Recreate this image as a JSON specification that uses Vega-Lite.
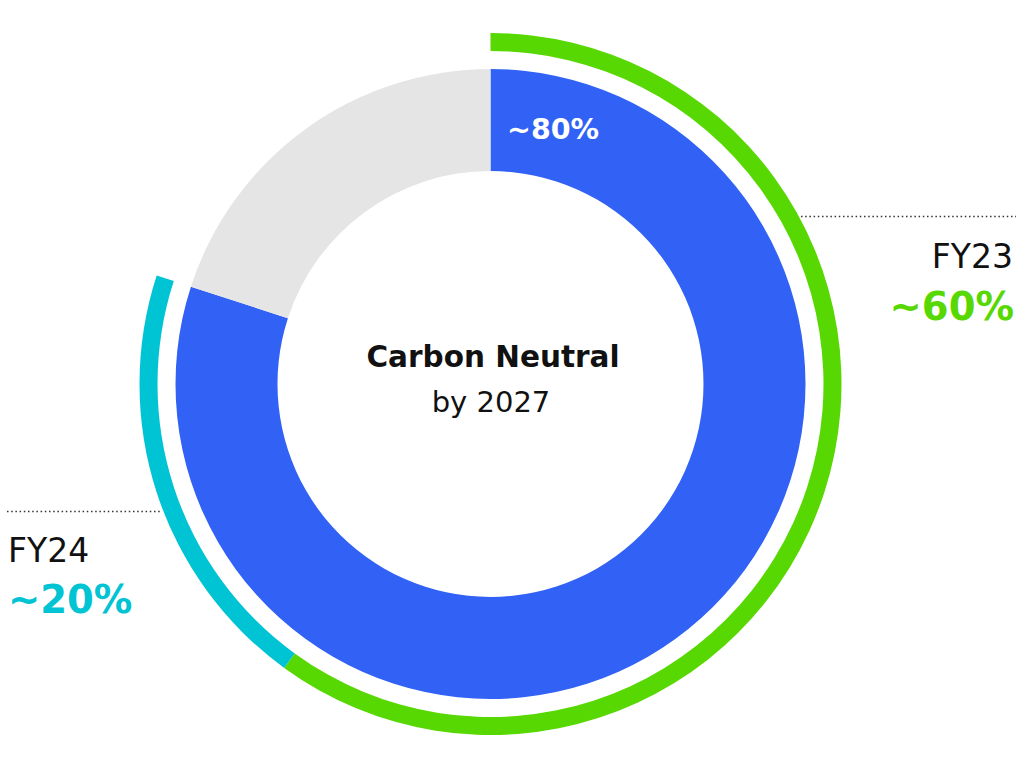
{
  "$schema": "https://vega.github.io/schema/vega-lite/v6.json",
  "width": 1024,
  "height": 768,
  "autosize": {"type": "fit", "contains": "padding"},
  "padding": 0,
  "background": "white",
  "config": {"view": {"stroke": null}, "font": "DejaVu Sans"},
  "datasets": {
    "rings": [
      {"ring": "inner", "seg": "Covered", "start": 0, "end": 80},
      {"ring": "inner", "seg": "Remaining", "start": 80, "end": 100},
      {"ring": "outer", "seg": "FY23", "start": 0, "end": 60},
      {"ring": "outer", "seg": "FY24", "start": 60, "end": 80}
    ],
    "labels": [
      {"id": "inner", "text": "~80%", "x": 507, "y": 139},
      {"id": "title", "text": "Carbon Neutral", "x": 493, "y": 367},
      {"id": "sub", "text": "by 2027", "x": 491, "y": 412},
      {"id": "fy23", "text": "FY23", "x": 1013, "y": 268},
      {"id": "fy23v", "text": "~60%", "x": 1014, "y": 320},
      {"id": "fy24", "text": "FY24", "x": 8, "y": 562},
      {"id": "fy24v", "text": "~20%", "x": 8, "y": 613}
    ],
    "leaders": [
      {"id": "fy23", "x": 801, "x2": 1016, "y": 216.5},
      {"id": "fy24", "x": 7, "x2": 161, "y": 511.5}
    ]
  },
  "layer": [
    {
      "data": {"name": "rings"},
      "transform": [{"filter": "datum.ring === 'inner'"}],
      "mark": {"type": "arc", "radius": 315, "radius2": 213},
      "encoding": {
        "x": {"datum": 490.5, "type": "quantitative", "scale": {"domain": [0, 1024], "nice": false, "zero": false}, "axis": null},
        "y": {"datum": 384, "type": "quantitative", "scale": {"domain": [0, 768], "nice": false, "zero": false, "reverse": true}, "axis": null},
        "theta": {"field": "start", "type": "quantitative", "scale": {"domain": [0, 100]}},
        "theta2": {"field": "end"},
        "color": {"field": "seg", "type": "nominal", "scale": {"domain": ["Covered", "Remaining", "FY23", "FY24"], "range": ["#3162F5", "#E5E5E5", "#58D802", "#00C3D4"]}, "legend": null}
      }
    },
    {
      "data": {"name": "rings"},
      "transform": [{"filter": "datum.ring === 'outer'"}],
      "mark": {"type": "arc", "radius": 351, "radius2": 333},
      "encoding": {
        "x": {"datum": 490.5, "type": "quantitative"},
        "y": {"datum": 384, "type": "quantitative"},
        "theta": {"field": "start", "type": "quantitative"},
        "theta2": {"field": "end"},
        "color": {"field": "seg", "type": "nominal", "legend": null}
      }
    },
    {
      "data": {"name": "leaders"},
      "mark": {"type": "rule", "stroke": "#333333", "strokeWidth": 1.5, "strokeDash": [1.5, 2.7]},
      "encoding": {
        "x": {"field": "x", "type": "quantitative"},
        "x2": {"field": "x2"},
        "y": {"field": "y", "type": "quantitative"}
      }
    },
    {
      "data": {"name": "labels"},
      "transform": [{"filter": "datum.id === 'inner'"}],
      "mark": {"type": "text", "align": "left", "baseline": "alphabetic", "fontSize": 28.5, "fontWeight": "bold", "color": "white"},
      "encoding": {
        "x": {"field": "x", "type": "quantitative"},
        "y": {"field": "y", "type": "quantitative"},
        "text": {"field": "text"}
      }
    },
    {
      "data": {"name": "labels"},
      "transform": [{"filter": "datum.id === 'title'"}],
      "mark": {"type": "text", "align": "center", "baseline": "alphabetic", "fontSize": 29.5, "fontWeight": "bold", "color": "#111111"},
      "encoding": {
        "x": {"field": "x", "type": "quantitative"},
        "y": {"field": "y", "type": "quantitative"},
        "text": {"field": "text"}
      }
    },
    {
      "data": {"name": "labels"},
      "transform": [{"filter": "datum.id === 'sub'"}],
      "mark": {"type": "text", "align": "center", "baseline": "alphabetic", "fontSize": 29, "fontWeight": "normal", "color": "#111111"},
      "encoding": {
        "x": {"field": "x", "type": "quantitative"},
        "y": {"field": "y", "type": "quantitative"},
        "text": {"field": "text"}
      }
    },
    {
      "data": {"name": "labels"},
      "transform": [{"filter": "datum.id === 'fy23'"}],
      "mark": {"type": "text", "align": "right", "baseline": "alphabetic", "fontSize": 33, "fontWeight": "normal", "color": "#111111"},
      "encoding": {
        "x": {"field": "x", "type": "quantitative"},
        "y": {"field": "y", "type": "quantitative"},
        "text": {"field": "text"}
      }
    },
    {
      "data": {"name": "labels"},
      "transform": [{"filter": "datum.id === 'fy24'"}],
      "mark": {"type": "text", "align": "left", "baseline": "alphabetic", "fontSize": 33, "fontWeight": "normal", "color": "#111111"},
      "encoding": {
        "x": {"field": "x", "type": "quantitative"},
        "y": {"field": "y", "type": "quantitative"},
        "text": {"field": "text"}
      }
    },
    {
      "data": {"name": "labels"},
      "transform": [{"filter": "datum.id === 'fy23v'"}],
      "mark": {"type": "text", "align": "right", "baseline": "alphabetic", "fontSize": 38.5, "fontWeight": "bold", "color": "#58D802"},
      "encoding": {
        "x": {"field": "x", "type": "quantitative"},
        "y": {"field": "y", "type": "quantitative"},
        "text": {"field": "text"}
      }
    },
    {
      "data": {"name": "labels"},
      "transform": [{"filter": "datum.id === 'fy24v'"}],
      "mark": {"type": "text", "align": "left", "baseline": "alphabetic", "fontSize": 38.5, "fontWeight": "bold", "color": "#00C3D4"},
      "encoding": {
        "x": {"field": "x", "type": "quantitative"},
        "y": {"field": "y", "type": "quantitative"},
        "text": {"field": "text"}
      }
    }
  ]
}
